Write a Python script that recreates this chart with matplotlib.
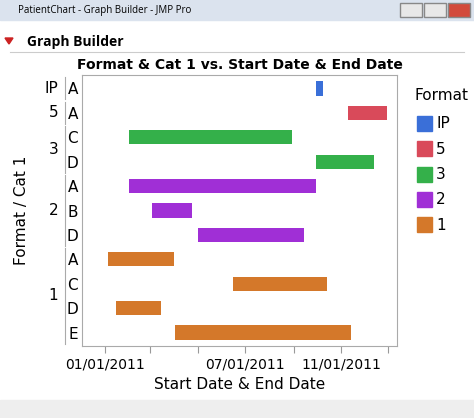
import matplotlib
matplotlib.use("Agg")
import matplotlib.pyplot as plt
import matplotlib.dates as mdates
from matplotlib.patches import Rectangle, Polygon
from matplotlib.lines import Line2D
import datetime as dt

formats = ["IP", "5", "3", "3", "2", "2", "2", "1", "1", "1", "1"]
cats = ["A", "A", "C", "D", "A", "B", "D", "A", "C", "D", "E"]
starts = ["2011-09-30", "2011-11-10", "2011-02-01", "2011-09-30", "2011-02-01", "2011-03-03",
          "2011-05-01", "2011-01-06", "2011-06-15", "2011-01-16", "2011-04-01"]
ends = ["2011-10-09", "2011-12-30", "2011-08-30", "2011-12-14", "2011-09-30", "2011-04-23",
        "2011-09-14", "2011-03-31", "2011-10-14", "2011-03-15", "2011-11-14"]
legend_formats = ["IP", "5", "3", "2", "1"]
colors = {"IP": "#3a6fd8", "5": "#d94a5a", "3": "#34b04a", "2": "#a02fd6", "1": "#d4782a"}

W, H = 474, 418
fig = plt.figure(figsize=(W / 100, H / 100), dpi=100)
fig.patch.set_facecolor("white")

def px(x, y):
    return x / W, 1 - y / H

# window chrome
fig.patches.append(Rectangle((0, 1 - 20 / H), 1, 20 / H, transform=fig.transFigure, color="#dbe3ee", zorder=0))
fig.text(*px(18, 10), "PatientChart - Graph Builder - JMP Pro", fontsize=7, va="center", family="Open Sans")
for i, c in enumerate(["#e8e8e8", "#e8e8e8", "#d24a3c"]):
    fig.patches.append(Rectangle(px(400 + i * 24, 17), 22 / W, 14 / H, transform=fig.transFigure,
                                 color=c, ec="#888", zorder=1))
fig.patches.append(Rectangle((0, 0), 1, 18 / H, transform=fig.transFigure, color="#eeeeee", zorder=0))
fig.patches.append(Polygon([px(5, 38), px(13, 38), px(9, 44)], closed=True, transform=fig.transFigure,
                           color="#cc2222", zorder=2))
fig.text(*px(27, 42), "Graph Builder", fontsize=10, fontweight="bold", va="center", family="Open Sans")
fig.add_artist(Line2D([10 / W, 1 - 10 / W], [1 - 52 / H] * 2, color="#cccccc", lw=0.8))

ax = fig.add_axes([82 / W, 72 / H, 315 / W, 271 / H])
n = len(cats)
ys = list(range(n))[::-1]
for y, f, s, e in zip(ys, formats, starts, ends):
    s0 = mdates.date2num(dt.date.fromisoformat(s))
    e0 = mdates.date2num(dt.date.fromisoformat(e))
    ax.barh(y, e0 - s0, left=s0, height=0.58, color=colors[f])
ax.set_xlim(mdates.date2num(dt.date(2010, 12, 3)), mdates.date2num(dt.date(2012, 1, 12)))
ax.set_ylim(-0.55, n - 0.45)
ax.xaxis.set_major_locator(mdates.MonthLocator(bymonth=[1, 3, 5, 7, 9, 11]))
ax.xaxis.set_major_formatter(plt.FuncFormatter(
    lambda v, p: mdates.num2date(v).strftime("%m/%d/%Y") if mdates.num2date(v).month in (1, 7, 11) and mdates.num2date(v).year == 2011 else ""))
ax.set_yticks(ys)
ax.set_yticklabels(cats)
ax.tick_params(axis="y", length=0, labelsize=11, pad=3)
ax.tick_params(axis="x", labelsize=10, length=5, color="#999")
for sp in ax.spines.values():
    sp.set_color("#aaaaaa")
ax.set_xlabel("Start Date & End Date", fontsize=11)
ax.set_title("Format & Cat 1 vs. Start Date & End Date", fontsize=10, fontweight="bold", pad=4)

# group labels
groups = []
for y, f in zip(ys, formats):
    if groups and groups[-1][0] == f:
        groups[-1][1].append(y)
    else:
        groups.append([f, [y]])
trans = ax.get_yaxis_transform()
for f, yl in groups:
    top, bot = max(yl) + 0.45, min(yl) - 0.45
    ax.add_line(Line2D([-0.055, -0.055], [bot, top], transform=trans, color="#aaaaaa", lw=0.8, clip_on=False))
    ax.text(-0.075, (top + bot) / 2, f, transform=trans, ha="right", va="center", fontsize=11)
fig.text(*px(22, 210), "Format / Cat 1", rotation=90, fontsize=11, ha="center", va="center")

# legend
fig.text(*px(415, 95), "Format", fontsize=11, va="center")
for i, f in enumerate(legend_formats):
    y = 124 + i * 25.3
    fig.patches.append(Rectangle(px(417, y + 7), 15 / W, 15 / H, transform=fig.transFigure, color=colors[f]))
    fig.text(*px(436, y), f, fontsize=11, va="center")

fig.savefig("out.png", dpi=100)
